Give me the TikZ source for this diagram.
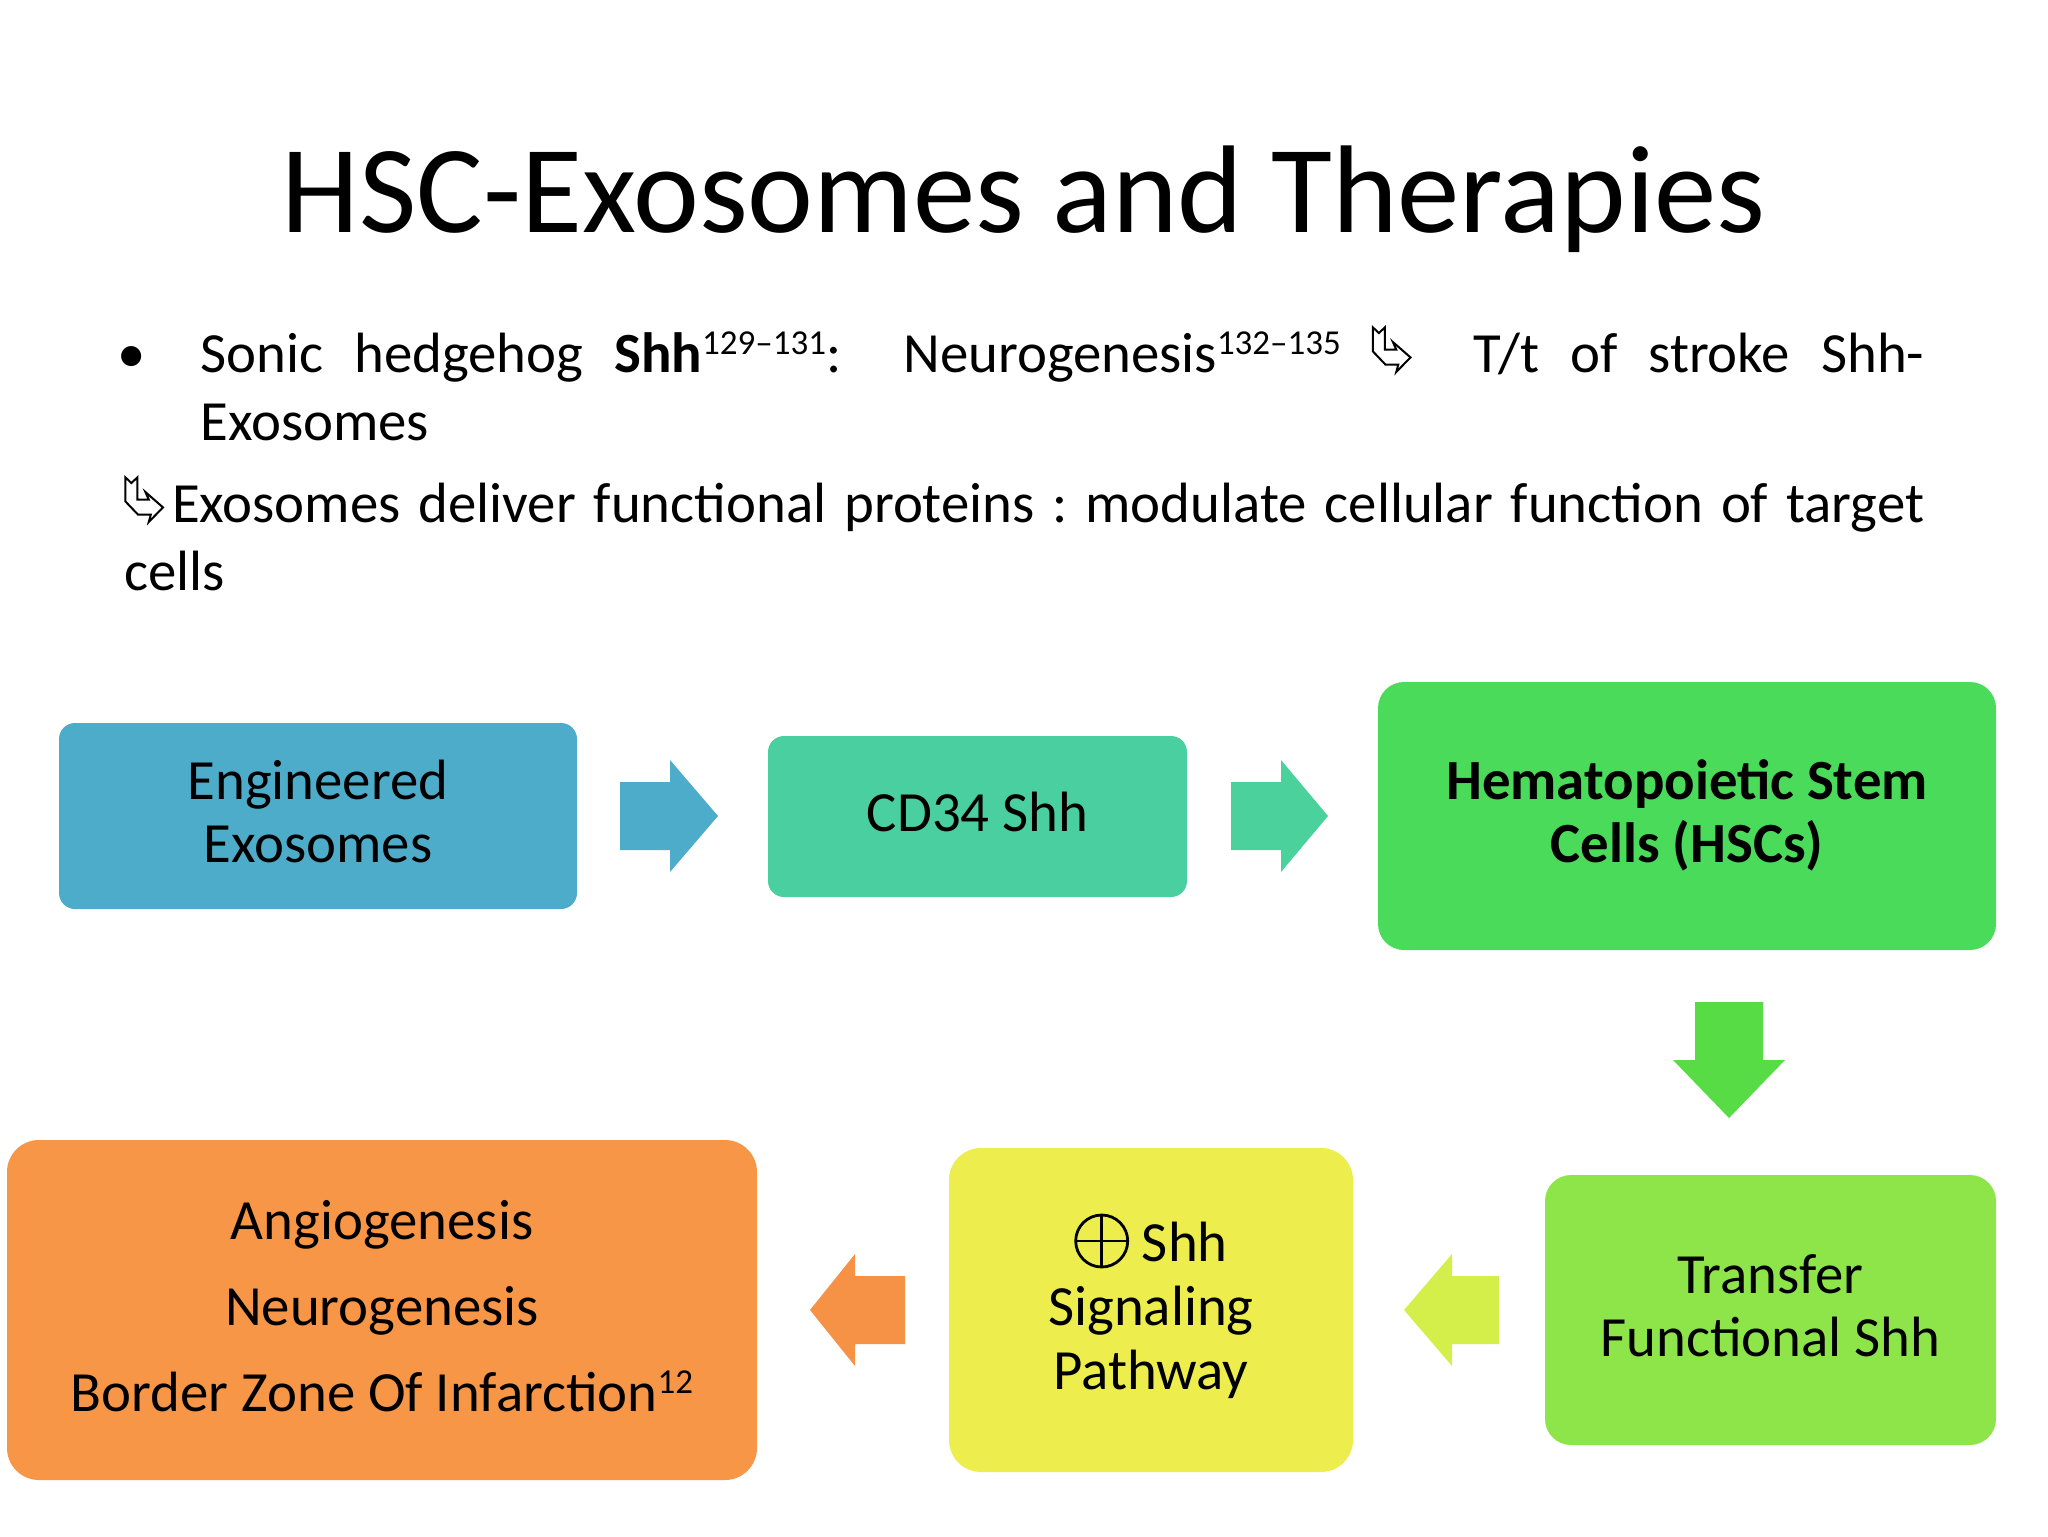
\documentclass[tikz,border=0pt]{standalone}
\usepackage{fontspec}
\setmainfont{Carlito}
\usetikzlibrary{calc}
\frenchspacing
\definecolor{cBlue}{HTML}{4DACC9}
\definecolor{cTeal}{HTML}{4ACFA1}
\definecolor{cTealA}{HTML}{4BD19C}
\definecolor{cGreen}{HTML}{4ADB5A}
\definecolor{cGreenA}{HTML}{58DC46}
\definecolor{cLime}{HTML}{8EE54A}
\definecolor{cLimeA}{HTML}{D4EE4A}
\definecolor{cYellow}{HTML}{EDEE4E}
\definecolor{cOrange}{HTML}{F79646}
\definecolor{cOrangeA}{HTML}{F59246}
\newcommand\hookarrow{\tikz[baseline=0pt]\draw[line width=1pt,line join=miter] (0pt,22.3pt)--(3pt,19.5pt)--(6pt,22.3pt)--(6pt,11.2pt)--(11.7pt,11.2pt)--(10pt,15pt)--(18.8pt,7.3pt)--(11.7pt,0pt)--(12.7pt,3.7pt)--(6.3pt,3.7pt)--(0pt,10.3pt)--cycle;}
\newcommand\circplus{\tikz[baseline={(0pt,-10pt)}]{\draw[line width=1.4pt] (0pt,0pt) circle[radius=13pt]; \draw[line width=1.4pt] (-13pt,0pt)--(13pt,0pt) (0pt,-13pt)--(0pt,13pt);}}
\newcommand\sups[1]{\raisebox{9pt}{\fontsize{17.5}{18}\selectfont #1}}
\newcommand\blockarrow[6]{%
  \path ($(#2)!#5!(#1)$) coordinate (hb);
  \fill[#6] ($(#1)!#3!90:(#2)$) -- ($(hb)!#3!90:(#2)$) -- ($(hb)!#4!90:(#2)$) -- (#2) -- ($(hb)!#4!-90:(#2)$) -- ($(hb)!#3!-90:(#2)$) -- ($(#1)!#3!-90:(#2)$) -- cycle;}
\tikzset{
  box/.style={rounded corners=#1, inner sep=0pt, align=center, text depth=7.5pt,
    font=\fontsize{28.4}{31.5}\selectfont},
  txt/.style={inner sep=0pt, anchor=base west, font=\fontsize{28.4}{34}\selectfont},
}
\begin{document}
\begin{tikzpicture}[x=0.5pt,y=-0.5pt]
\fill[white] (0,0) rectangle (2048,1536);
\useasboundingbox (0,0) rectangle (2048,1536);

\node[inner sep=0pt, anchor=base, font=\fontsize{62.4}{70}\selectfont] (title) at (1024,232) {HSC-Exosomes and Therapies};

\node[inner sep=0pt, anchor=base, font=\fontsize{28.4}{34}\selectfont] (bul) at (132,372) {•};
\node[txt] (l1) at (200,372) {\makebox[862pt][s]{Sonic hedgehog \textbf{Shh}\sups{129–131}: \ Neurogenesis\sups{132–135} \hookarrow\ \ T/t of stroke Shh-}};
\node[txt] (l2) at (200,440) {Exosomes};
\node[txt] (l3) at (124,522) {\makebox[900pt][s]{\hookarrow\kern4pt Exosomes deliver functional proteins : modulate cellular function of target}};
\node[txt] (l4) at (124,590) {cells};

\node[box=8pt, fill=cBlue, minimum width=259pt, minimum height=93pt, text height=54pt] (b1) at (318,816) {Engineered\\Exosomes};
\node[box=8pt, fill=cTeal, minimum width=209.5pt, minimum height=80.5pt, text height=22.5pt] (b2) at (977.5,816.5) {CD34 Shh};
\node[box=13pt, fill=cGreen, minimum width=309pt, minimum height=134pt, text height=54pt, font=\fontsize{28.4}{31.5}\selectfont\bfseries] (b3) at (1687,816) {Hematopoietic Stem\\Cells (HSCs)};
\node[box=13pt, fill=cLime, minimum width=225.5pt, minimum height=135pt, text height=54pt] (b4) at (1770.5,1310) {Transfer\\Functional Shh};
\node[box=16pt, fill=cYellow, minimum width=202pt, minimum height=162pt, text height=86.5pt, font=\fontsize{28.4}{32}\selectfont] (b5) at (1151,1310) {\circplus\ Shh\\Signaling\\Pathway};
\node[box=16pt, fill=cOrange, minimum width=375pt, minimum height=170pt, text height=108.5pt, font=\fontsize{28.4}{43}\selectfont] (b6) at (382,1310) {Angiogenesis\\Neurogenesis\\Border Zone Of Infarction\sups{12}};

\coordinate (a1s) at (620,816); \coordinate (a1t) at (718,816);
\coordinate (a2s) at (1231,816); \coordinate (a2t) at (1328,816);
\coordinate (a3s) at (1729,1002); \coordinate (a3t) at (1729,1118);
\coordinate (a4s) at (1499,1310); \coordinate (a4t) at (1404,1310);
\coordinate (a5s) at (905,1310); \coordinate (a5t) at (810,1310);
\blockarrow{a1s}{a1t}{17pt}{28pt}{24pt}{cBlue}
\blockarrow{a2s}{a2t}{17pt}{28pt}{23.5pt}{cTealA}
\blockarrow{a3s}{a3t}{17pt}{28pt}{29pt}{cGreenA}
\blockarrow{a4s}{a4t}{17pt}{28pt}{24pt}{cLimeA}
\blockarrow{a5s}{a5t}{17pt}{28pt}{22.5pt}{cOrangeA}
\end{tikzpicture}
\end{document}
